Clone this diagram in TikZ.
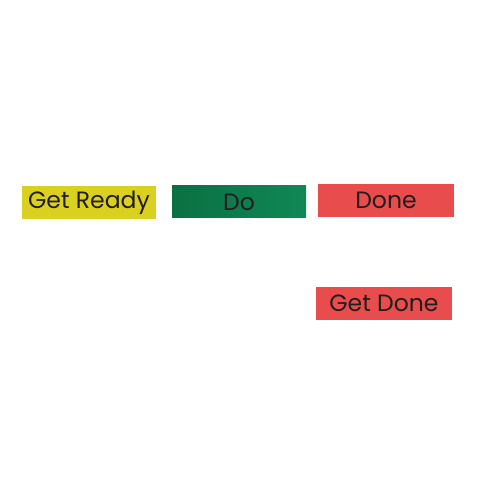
\documentclass[tikz,border=0pt]{standalone}
\usepackage{fontspec}
\setmainfont{Poppins}
\usepackage{tikz}
\usetikzlibrary{positioning}
\definecolor{tgyellow}{RGB}{218, 208, 32}
\definecolor{tggreen}{RGB}{10, 112, 66}
\definecolor{tggreenlt}{RGB}{16, 136, 86}
\definecolor{tgred}{RGB}{232, 76, 76}
\definecolor{tgtext}{RGB}{35, 30, 30}
\tikzset{tag/.style={minimum width=2.68cm, minimum height=0.66cm, inner sep=0pt,
  text=tgtext, font=\fontsize{13.4}{16}\selectfont}}

\begin{document}
\begin{tikzpicture}
\useasboundingbox (0,0) rectangle (10,-10);
% top row of labels
\node[tag, fill=tgyellow] (ready) at (1.78,-4.05) {Get Ready};
\node[tag, left color=tggreen, right color=tggreenlt, minimum height=0.64cm] (do) at (4.78,-4.04) {Do};
\node[tag, fill=tgred, minimum width=2.72cm] (done) at (7.72,-4.01) {Done};
% the one below
\node[tag, fill=tgred, minimum width=2.72cm] (getdone) at (7.68,-6.07) {Get Done};
\end{tikzpicture}
\end{document}
